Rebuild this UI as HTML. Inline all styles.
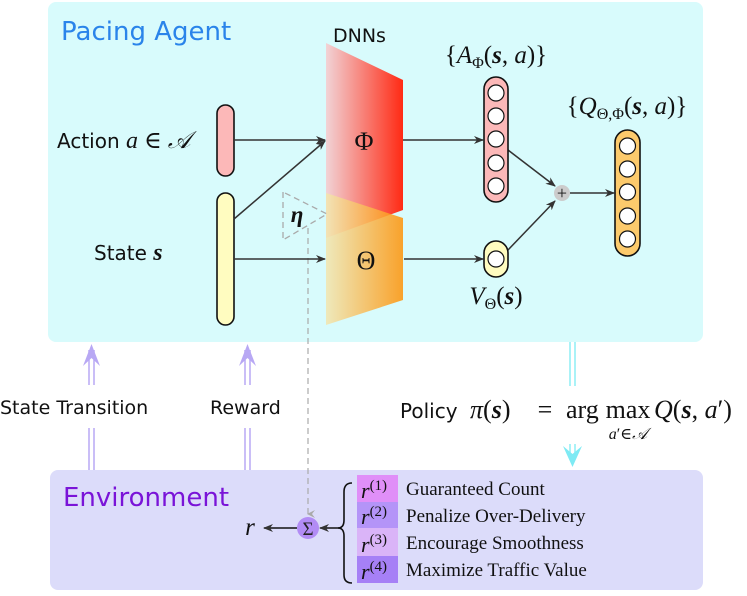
<!DOCTYPE html>
<html><head><meta charset="utf-8"><style>
html,body{margin:0;padding:0;background:#fff}
svg{display:block}
.ss{font-family:"DejaVu Sans","Liberation Sans",sans-serif}
.sf{font-family:"Liberation Serif","DejaVu Serif",serif}
</style></head><body>
<svg width="747" height="596" viewBox="0 0 747 596" xmlns="http://www.w3.org/2000/svg">
<defs>
<linearGradient id="gp" x1="0" x2="1" y1="0" y2="0"><stop offset="0" stop-color="#f1d3d6"/><stop offset="1" stop-color="#ff2a14"/></linearGradient>
<linearGradient id="gt" x1="0" x2="1" y1="0" y2="0"><stop offset="0" stop-color="#f2e6b0"/><stop offset="1" stop-color="#ff9206"/></linearGradient>
<marker id="ar" markerWidth="10" markerHeight="8" refX="9" refY="4" orient="auto" markerUnits="userSpaceOnUse"><path d="M0,0 L10,4 L0,8 L3,4 Z" fill="#333"/></marker>
<marker id="ag" markerWidth="8" markerHeight="8" refX="4" refY="7" orient="auto" markerUnits="userSpaceOnUse"><path d="M0,0 L4,8 L8,0 L4,3 Z" fill="#aaa"/></marker>
</defs>
<rect x="48" y="2" width="655" height="340" rx="8" fill="#d8fbfc"/>
<rect x="50" y="470" width="653" height="120" rx="8" fill="#dcdcfa"/>
<text x="61" y="40" class="ss" font-size="26" fill="#2a84ea">Pacing Agent</text>
<text x="63" y="506" class="ss" font-size="26" fill="#7a14d8">Environment</text>
<text x="333" y="42" class="ss" font-size="19" fill="#111">DNNs</text>
<polygon points="326,43 403,80 403,210 326,238" fill="url(#gp)"/>
<polygon points="326,193 403,218 403,300 326,325" fill="url(#gt)" opacity="0.85"/>
<text x="364" y="150" class="sf" font-size="26" text-anchor="middle" fill="#111">Φ</text>
<text x="366" y="269" class="sf" font-size="26" text-anchor="middle" fill="#111">Θ</text>
<rect x="217" y="105" width="17" height="71" rx="8.5" fill="#fcb8b8" stroke="#111" stroke-width="1.6"/>
<rect x="217" y="193" width="17" height="132" rx="8.5" fill="#fffcc0" stroke="#111" stroke-width="1.6"/>
<text x="57" y="148" class="ss" font-size="20" fill="#111">Action <tspan class="sf" font-style="italic" font-size="24">a</tspan><tspan class="sf" font-size="24"> ∈ </tspan><tspan class="sf" font-style="italic" font-size="24">𝒜</tspan></text>
<text x="94" y="260" class="ss" font-size="20" fill="#111">State <tspan class="sf" font-style="italic" font-weight="bold" font-size="24">s</tspan></text>
<polygon points="283,192 283,240 327,214" fill="none" stroke="#aaa" stroke-width="1.3" stroke-dasharray="6,4"/>
<text x="297" y="222" class="sf" font-size="23" font-style="italic" font-weight="bold" text-anchor="middle" fill="#111">η</text>
<line x1="308" y1="228" x2="308" y2="514" stroke="#aaa" stroke-width="1.2" stroke-dasharray="6,4" marker-end="url(#ag)"/>
<g stroke="#333" stroke-width="1.5" fill="none">
<line x1="234" y1="140" x2="325" y2="140" marker-end="url(#ar)"/>
<line x1="234" y1="219" x2="325" y2="141" marker-end="url(#ar)"/>
<line x1="234" y1="259" x2="325" y2="259" marker-end="url(#ar)"/>
<line x1="403" y1="140" x2="483" y2="140" marker-end="url(#ar)"/>
<line x1="404" y1="259" x2="483" y2="259" marker-end="url(#ar)"/>
<line x1="508" y1="150" x2="555" y2="186" marker-end="url(#ar)"/>
<line x1="508" y1="250" x2="555" y2="201" marker-end="url(#ar)"/>
<line x1="570" y1="193" x2="614" y2="193" marker-end="url(#ar)"/>
</g>
<rect x="484" y="77" width="24" height="125" rx="12" fill="#fcb8b8" stroke="#111" stroke-width="1.6"/>
<g fill="#fff" stroke="#111" stroke-width="1.2">
<circle cx="496" cy="93" r="8"/><circle cx="496" cy="116" r="8"/><circle cx="496" cy="139" r="8"/><circle cx="496" cy="163" r="8"/><circle cx="496" cy="186" r="8"/>
</g>
<rect x="484" y="241" width="24" height="36" rx="12" fill="#fffcc0" stroke="#111" stroke-width="1.6"/>
<circle cx="496" cy="259" r="8" fill="#fff" stroke="#111" stroke-width="1.2"/>
<rect x="615" y="130" width="25" height="126" rx="12.5" fill="#fcca6c" stroke="#111" stroke-width="1.6"/>
<g fill="#fff" stroke="#111" stroke-width="1.2">
<circle cx="627.5" cy="146" r="8"/><circle cx="627.5" cy="169" r="8"/><circle cx="627.5" cy="192" r="8"/><circle cx="627.5" cy="216" r="8"/><circle cx="627.5" cy="239" r="8"/>
</g>
<circle cx="562" cy="193" r="8" fill="#ccc"/>
<text x="562" y="199" class="sf" font-size="18" text-anchor="middle" fill="#111">+</text>
<text x="496" y="63" class="sf" font-size="25" text-anchor="middle" fill="#111">{<tspan font-style="italic">A</tspan><tspan font-size="16" dy="5">Φ</tspan><tspan dy="-5">(</tspan><tspan font-weight="bold" font-style="italic">s</tspan>, <tspan font-style="italic">a</tspan>)}</text>
<text x="627" y="114" class="sf" font-size="25" text-anchor="middle" fill="#111">{<tspan font-style="italic">Q</tspan><tspan font-size="16" dy="5">Θ,Φ</tspan><tspan dy="-5">(</tspan><tspan font-weight="bold" font-style="italic">s</tspan>, <tspan font-style="italic">a</tspan>)}</text>
<text x="496" y="304" class="sf" font-size="25" text-anchor="middle" fill="#111"><tspan font-style="italic">V</tspan><tspan font-size="16" dy="5">Θ</tspan><tspan dy="-5">(</tspan><tspan font-weight="bold" font-style="italic">s</tspan>)</text>
<g stroke="#b8a8f4" stroke-width="1.5">
<line x1="89" y1="350" x2="89" y2="385"/><line x1="94" y1="350" x2="94" y2="385"/>
<line x1="89" y1="428" x2="89" y2="470"/><line x1="94" y1="428" x2="94" y2="470"/>
<line x1="245" y1="350" x2="245" y2="385"/><line x1="250" y1="350" x2="250" y2="385"/>
<line x1="245" y1="428" x2="245" y2="470"/><line x1="250" y1="428" x2="250" y2="470"/>
</g>
<polygon points="91.5,344 83,366 91.5,358 100,366" fill="#b8a8f4"/>
<polygon points="247.5,344 239,366 247.5,358 256,366" fill="#b8a8f4"/>
<text x="0" y="414" class="ss" font-size="19" fill="#111">State Transition</text>
<text x="210" y="414" class="ss" font-size="19" fill="#111">Reward</text>
<g stroke="#8eeef4" stroke-width="1.5">
<line x1="570" y1="342" x2="570" y2="386"/><line x1="575" y1="342" x2="575" y2="386"/>
<line x1="570" y1="444" x2="570" y2="458"/><line x1="575" y1="444" x2="575" y2="458"/>
</g>
<polygon points="572.5,467 563,446 572.5,454 582,446" fill="#7eeaf4"/>
<text x="400" y="418" class="ss" font-size="20" fill="#111">Policy</text>
<text x="470" y="418" class="sf" font-size="26" fill="#111"><tspan font-style="italic">π</tspan>(<tspan font-weight="bold" font-style="italic">s</tspan>)</text>
<text x="545" y="418" class="sf" font-size="26" text-anchor="middle" fill="#111">=</text>
<text x="566" y="418" class="sf" font-size="26" fill="#111">arg</text>
<text x="628" y="418" class="sf" font-size="26" text-anchor="middle" fill="#111">max</text>
<text x="654" y="418" class="sf" font-size="26" fill="#111"><tspan font-style="italic">Q</tspan>(<tspan font-weight="bold" font-style="italic">s</tspan>, <tspan font-style="italic">a</tspan>′)</text>
<text x="628" y="439" class="sf" font-size="16" text-anchor="middle" fill="#111"><tspan font-style="italic">a</tspan>′∈<tspan font-style="italic">𝒜</tspan></text>
<circle cx="308" cy="528" r="11" fill="#b28cf5"/>
<text x="308" y="535" class="sf" font-size="19" text-anchor="middle" fill="#222">Σ</text>
<line x1="297" y1="528" x2="264" y2="528" stroke="#111" stroke-width="1.6" marker-end="url(#ar)"/>
<line x1="340" y1="528" x2="320" y2="528" stroke="#111" stroke-width="1.6" marker-end="url(#ar)"/>
<text x="250" y="535" class="sf" font-size="25" font-style="italic" text-anchor="middle" fill="#111">r</text>
<path d="M352,483 Q344,483 344,492 L344,520 Q344,528 338,528 Q344,528 344,536 L344,575 Q344,583 352,583" fill="none" stroke="#111" stroke-width="1.6"/>
<rect x="357" y="475" width="41" height="27" fill="#e08ff8"/>
<rect x="357" y="502" width="41" height="26" fill="#b494f8"/>
<rect x="357" y="528" width="41" height="28" fill="#dab4f8"/>
<rect x="357" y="556" width="41" height="27" fill="#a680f6"/>
<g class="sf" font-size="22" fill="#111">
<text x="361" y="498"><tspan font-style="italic">r</tspan><tspan font-size="15" dy="-8">(1)</tspan></text>
<text x="361" y="524"><tspan font-style="italic">r</tspan><tspan font-size="15" dy="-8">(2)</tspan></text>
<text x="361" y="552"><tspan font-style="italic">r</tspan><tspan font-size="15" dy="-8">(3)</tspan></text>
<text x="361" y="579"><tspan font-style="italic">r</tspan><tspan font-size="15" dy="-8">(4)</tspan></text>
</g>
<g class="sf" font-size="19" fill="#111">
<text x="406" y="495">Guaranteed Count</text>
<text x="406" y="522">Penalize Over-Delivery</text>
<text x="406" y="549">Encourage Smoothness</text>
<text x="406" y="576">Maximize Traffic Value</text>
</g>
</svg>
</body></html>
